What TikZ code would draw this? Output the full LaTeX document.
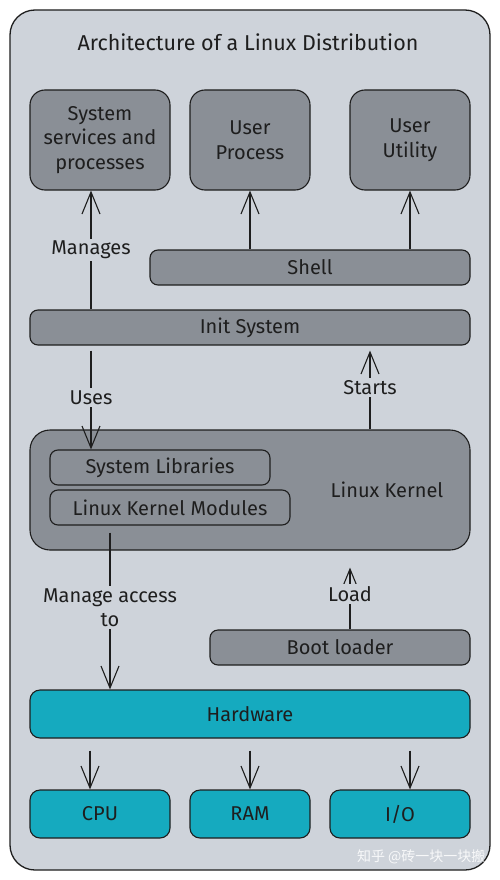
\documentclass[tikz,border=0pt]{standalone}
\usepackage{fontspec}
\setmainfont{Fira Sans}
\newfontfamily\cjkfont{Noto Sans CJK SC}
\usepackage{xcolor}
\usetikzlibrary{arrows.meta}

\definecolor{panel}{RGB}{206,211,218}
\definecolor{slate}{RGB}{138,143,150}
\definecolor{teal}{RGB}{21,170,191}
\definecolor{ink}{RGB}{30,30,30}

\tikzset{
  block/.style={draw=ink, line width=1.1pt, fill=slate, inner sep=0pt,
    align=center, font=\fontsize{20}{24.5}\selectfont, text=ink},
  chip/.style={block, fill=teal, rounded corners=10pt},
  bar/.style={block, rounded corners=8pt},
  link/.style={draw=ink, line width=1.1pt,
    -{Straight Barb[length=22pt,width=18pt,line width=1.1pt]}},
  tag/.style={fill=panel, inner sep=2pt, align=center,
    font=\fontsize{20}{24}\selectfont, text=ink}
}

\begin{document}
\begin{tikzpicture}[x=1pt,y=-1pt]
  \useasboundingbox (0,0) rectangle (500,880);
  \draw[draw=ink, line width=1.3pt, fill=panel, rounded corners=25pt] (10,10) rectangle (490,870);
  \node[font=\fontsize{21.5}{26}\selectfont, text=ink] (title) at (248,42) {Architecture of a Linux Distribution};

      % user space
      \node[block, rounded corners=15pt, minimum width=140pt, minimum height=100pt] (svc) at (100,140) {System\\services and\\processes};
      \node[block, rounded corners=15pt, minimum width=120pt, minimum height=100pt] (proc) at (250,140) {User\\Process};
      \node[block, rounded corners=15pt, minimum width=120pt, minimum height=100pt] (util) at (410,140) {User\\Utility};
      \node[bar, minimum width=320pt, minimum height=35pt] (shell) at (310,267.5) {Shell};
      \node[bar, minimum width=440pt, minimum height=35pt] (init) at (250,327.5) {Init System};

      % kernel
      \node[block, rounded corners=20pt, minimum width=440pt, minimum height=120pt] (kernel) at (250,490) {};
      \node[bar, minimum width=220pt, minimum height=35pt] (libs) at (160,467.5) {System Libraries};
      \node[bar, minimum width=240pt, minimum height=35pt] (mods) at (170,507.5) {Linux Kernel Modules};
      \node[font=\fontsize{20}{24}\selectfont, text=ink] (klabel) at (387,490) {Linux Kernel};
      \node[bar, minimum width=260pt, minimum height=35pt] (boot) at (340,647.5) {Boot loader};

      % hardware
      \node[chip, minimum width=440pt, minimum height=48pt] (hw) at (250,714) {Hardware};
      \node[chip, minimum width=140pt, minimum height=48pt] (cpu) at (100,814) {CPU};
      \node[chip, minimum width=120pt, minimum height=48pt] (ram) at (250,814) {RAM};
      \node[chip, minimum width=140pt, minimum height=48pt] (io) at (400,814) {I/O};

      % connectors
      \draw[link] ([xshift=-159pt]init.north) -- node[tag] {Manages} ([xshift=-9pt]svc.south);
      \draw[link] (shell.north -| proc.south) -- (proc.south);
      \draw[link] (shell.north -| util.south) -- (util.south);
      \draw[link, shorten <=5pt] ([xshift=-159pt]init.south) -- node[tag] {Uses} ([xshift=-69pt]libs.north);
      \draw[link, shorten >=5pt] ([xshift=120pt]kernel.north) -- node[tag] {Starts} ([xshift=120pt]init.south);
      \draw[link, shorten <=7pt] ([xshift=-60pt]mods.south) -- node[tag, pos=0.5] {Manage access\\to} ([xshift=-140pt]hw.north);
      \draw[link, shorten >=17pt] ([xshift=10pt]boot.north) -- node[tag, pos=0.45] {Load} ([xshift=100pt]kernel.south);
      \draw[link, shorten <=12pt] (hw.south -| cpu.north) ++(-10pt,0) -- ([xshift=-10pt]cpu.north);
      \draw[link, shorten <=12pt] (hw.south -| ram.north) -- (ram.north);
      \draw[link, shorten <=12pt] (hw.south -| io.north) ++(10pt,0) -- ([xshift=10pt]io.north);

  \node[font=\cjkfont\fontsize{14}{16}\selectfont, text=white, opacity=0.85, anchor=east] (mark) at (489,857) {知乎 @砖一块一块搬};
\end{tikzpicture}
\end{document}
